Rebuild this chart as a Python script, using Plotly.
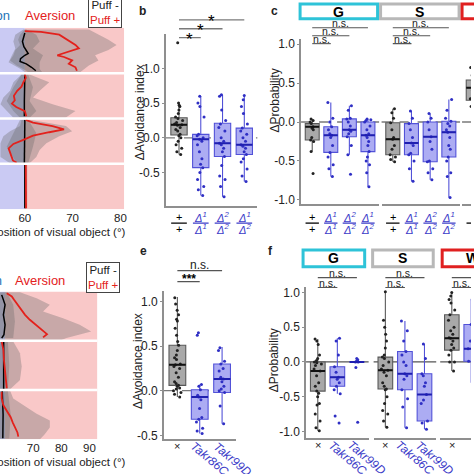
import plotly.graph_objects as go

W = H = 474
FONT = "Liberation Sans, Arial, sans-serif"

# ======================= DATA =======================
# ---- panel a (top): 4 strips; t = position inside strip (0 top .. 1 bottom), x = azimuth (deg)
a1_red_t = [
    [0.076, 0.091, 0.152, 0.265, 0.379, 0.455, 0.530, 0.606, 0.644, 0.720, 0.795, 0.871, 0.947],
    [0.03, 0.104, 0.201, 0.299, 0.388, 0.5, 0.597, 0.672, 0.746, 0.836, 0.948],
    [0.03, 0.091, 0.167, 0.242, 0.303, 0.379, 0.470, 0.561, 0.659, 0.758, 0.848, 0.924, 0.977],
    [0.02, 0.5, 0.98],
]
a1_red_x = [
    [60.0, 63.4, 67.2, 69.0, 70.6, 71.3, 69.0, 66.8, 68.2, 69.9, 69.2, 70.6, 70.9],
    [60.0, 60.2, 59.7, 59.3, 58.4, 57.7, 57.9, 57.3, 58.2, 60.0, 60.3],
    [60.2, 61.7, 65.8, 68.2, 65.1, 61.7, 59.7, 57.6, 56.6, 56.9, 57.3, 57.5, 58.3],
    [60.2, 60.15, 60.25],
]
a1_blk_t = [
    [0.114, 0.189, 0.303, 0.417, 0.492, 0.568, 0.606, 0.682, 0.742, 0.795, 0.871, 0.947],
    [0.03, 0.313, 0.612, 0.948],
    [0.03, 0.47, 0.977],
    [0.02, 0.98],
]
a1_blk_x = [
    [60.0, 59.8, 59.5, 59.8, 60.2, 60.7, 60.0, 59.1, 59.0, 60.3, 61.4, 62.3],
    [60.0, 59.9, 59.9, 59.9],
    [60.0, 59.9, 59.9],
    [60.0, 60.0],
]
a1_rband_t = [
    [0.038, 0.152, 0.265, 0.379, 0.492, 0.606, 0.720, 0.833, 0.947, 1.0],
    [0.03, 0.201, 0.388, 0.537, 0.687, 0.836, 0.985],
    [0.03, 0.167, 0.280, 0.394, 0.545, 0.697, 0.848, 0.985],
    [0.02, 0.98],
]
a1_rband_lo = [
    [60.0, 59.0, 58.6, 59.0, 58.0, 57.6, 56.9, 58.3, 60.3, 61.0],
    [59.3, 57.6, 56.9, 55.5, 54.9, 56.2, 57.6],
    [59.3, 59.0, 56.9, 55.5, 54.9, 54.9, 54.9, 56.9],
    [59.9, 59.9],
]
a1_rband_hi = [
    [73.4, 75.4, 77.5, 79.2, 77.5, 74.7, 75.4, 73.4, 72.0, 71.3],
    [61.0, 65.1, 63.1, 61.7, 65.8, 70.6, 68.5],
    [61.0, 68.6, 69.9, 67.2, 64.5, 63.1, 62.4, 61.0],
    [60.5, 60.5],
]
a1_bband_t = [
    [0.038, 0.152, 0.303, 0.455, 0.606, 0.758, 0.909, 1.0],
    [0.03, 0.313, 0.612, 0.836, 0.985],
    [0.03, 0.318, 0.621, 0.985],
    [0.02, 0.98],
]
a1_bband_lo = [
    [59.7, 58.0, 57.6, 58.0, 57.3, 56.6, 59.1, 60.3],
    [59.3, 57.6, 56.2, 57.6, 59.0],
    [59.0, 57.6, 56.2, 58.3],
    [59.9, 59.9],
]
a1_bband_hi = [
    [60.3, 62.4, 63.1, 61.7, 63.8, 63.1, 63.1, 63.8],
    [60.7, 61.7, 61.0, 62.4, 61.0],
    [60.7, 62.4, 61.7, 60.7],
    [60.2, 60.2],
]

# ---- panel a (bottom): 3 strips
a2_red_t = [
    [0.034, 0.101, 0.169, 0.270, 0.372, 0.473, 0.574, 0.676, 0.777, 0.865, 0.932],
    [0.014, 0.184, 0.388, 0.592, 0.796, 0.966],
    [0.034, 0.172, 0.310, 0.448, 0.552, 0.655, 0.759, 0.862, 0.945],
]
a2_red_x = [
    [60.6, 62.4, 63.2, 64.4, 65.9, 67.1, 68.8, 70.9, 72.9, 74.9, 73.5],
    [58.8, 59.4, 59.6, 60.0, 60.4, 60.6],
    [58.8, 58.8, 59.4, 60.8, 62.0, 62.7, 63.5, 64.4, 64.7],
]
a2_blk_t = [
    [0.068, 0.270, 0.473, 0.676, 0.878, 0.946],
    [0.02, 0.5, 0.98],
    [0.02, 0.5, 0.98],
]
a2_blk_x = [
    [58.8, 60.0, 59.4, 60.0, 59.6, 58.8],
    [59.5, 59.6, 59.5],
    [59.0, 59.3, 59.2],
]
a2_rband_t = [
    [0.014, 0.135, 0.270, 0.405, 0.541, 0.676, 0.811, 0.946, 1.0],
    [0.014, 0.252, 0.524, 0.796, 0.986],
    [0.014, 0.172, 0.345, 0.483, 0.621, 0.759, 0.897, 1.0],
]
a2_rband_lo = [
    [58.2] * 9,
    [58.2] * 5,
    [58.2] * 8,
]
a2_rband_hi = [
    [65.3, 71.2, 75.9, 73.5, 80.6, 86.5, 90.6, 81.8, 79.4],
    [62.9, 65.3, 65.9, 65.3, 61.8],
    [61.8, 62.9, 67.6, 71.2, 75.9, 75.9, 74.1, 72.4],
]
a2_bband_t = [
    [0.014, 0.270, 0.608, 0.946],
    [0.014, 0.5, 0.986],
    [0.014, 0.5, 0.986],
]
a2_bband_lo = [
    [58.2] * 4,
    [58.2] * 3,
    [58.2] * 3,
]
a2_bband_hi = [
    [60.6, 62.9, 63.5, 62.9],
    [61.0, 61.5, 61.0],
    [61.0, 62.0, 61.5],
]

# ---- panel b: Delta avoidance index, genotypes +/+, D1/D1, D2/D2, D1/D2
b_num = ["+", "Δ<sup>1</sup>", "Δ<sup>2</sup>", "Δ<sup>1</sup>"]
b_den = ["+", "Δ<sup>1</sup>", "Δ<sup>2</sup>", "Δ<sup>2</sup>"]
b_kind = ["g", "b", "b", "b"]
b_q1 = [0.04, -0.43, -0.27, -0.24]
b_med = [0.19, -0.02, -0.08, -0.10]
b_q3 = [0.29, 0.05, 0.21, 0.14]
b_lo = [-0.24, -0.83, -0.85, -0.63]
b_hi = [0.48, 0.60, 0.62, 0.61]
b_pts = [
    [1.37, 0.5, 0.47, 0.45, 0.4, 0.35, 0.3, 0.28, 0.25, 0.22, 0.2, 0.19, 0.18, 0.15, 0.12, 0.1, 0.05, 0.03, 0.0, -0.05, -0.1, -0.15, -0.2, -0.24],
    [0.6, 0.5, 0.45, 0.3, 0.05, 0.03, 0.0, -0.02, -0.05, -0.1, -0.2, -0.3, -0.38, -0.43, -0.5, -0.6, -0.7, -0.75, -0.83],
    [0.62, 0.6, 0.4, 0.25, 0.2, 0.15, 0.1, 0.0, -0.05, -0.08, -0.1, -0.15, -0.2, -0.27, -0.4, -0.55, -0.6, -0.7, -0.85],
    [0.61, 0.55, 0.45, 0.35, 0.2, 0.14, 0.1, 0.05, 0.0, -0.05, -0.1, -0.12, -0.15, -0.2, -0.24, -0.3, -0.35, -0.45, -0.55, -0.63],
]
b_sig = ["*", "*", "*"]

# ---- panel c: Delta probability per facet (G, S, V)
c_facets = ["G", "S", ""]
c_q1 = [[-0.23, -0.39, -0.19, -0.38], [-0.42, -0.42, -0.51, -0.45], [0.28]]
c_med = [[-0.06, -0.17, -0.10, -0.17], [-0.22, -0.27, -0.19, -0.13], [0.44]]
c_q3 = [[-0.02, -0.06, 0.04, 0.0], [-0.01, -0.02, 0.0, 0.01], [0.54]]
c_lo = [[-0.38, -0.70, -0.42, -0.83], [-0.51, -0.76, -0.74, -0.97], [0.10]]
c_hi = [[0.04, 0.25, 0.21, 0.04], [0.17, 0.14, 0.11, 0.29], [0.70]]
c_pts = [
    [
        [0.04, 0.02, 0.0, -0.02, -0.06, -0.08, -0.1, -0.2, -0.23, -0.25, -0.38, -0.66],
        [0.25, 0.05, 0.0, -0.06, -0.1, -0.15, -0.17, -0.2, -0.3, -0.39, -0.45, -0.55, -0.6, -0.7],
        [0.21, 0.15, 0.05, 0.04, 0.0, -0.05, -0.1, -0.12, -0.15, -0.19, -0.3, -0.42, -0.67],
        [0.04, 0.03, 0.02, 0.0, -0.05, -0.1, -0.15, -0.17, -0.2, -0.25, -0.3, -0.38, -0.45, -0.5, -0.55, -0.65, -0.83],
    ],
    [
        [0.17, 0.12, 0.05, -0.01, -0.1, -0.2, -0.22, -0.3, -0.35, -0.42, -0.45, -0.48, -0.51],
        [0.14, 0.05, -0.02, -0.1, -0.2, -0.27, -0.3, -0.4, -0.42, -0.5, -0.6, -0.76],
        [0.11, 0.05, 0.0, -0.1, -0.19, -0.25, -0.35, -0.5, -0.51, -0.6, -0.65, -0.74],
        [0.29, 0.15, 0.05, 0.01, -0.02, -0.05, -0.1, -0.13, -0.2, -0.3, -0.35, -0.45, -0.5, -0.65, -0.7, -0.97],
    ],
    [
        [0.70, 0.6, 0.54, 0.5, 0.44, 0.4, 0.3, 0.28, 0.2, 0.1],
    ],
]

# ---- panel e: Delta avoidance index for x, Takr86C, Takr99D
e_labels = ["×", "Takr86C", "Takr99D"]
e_kind = ["g", "b", "b"]
e_q1 = [0.06, -0.32, -0.02]
e_med = [0.29, -0.07, 0.13]
e_q3 = [0.51, 0.01, 0.30]
e_lo = [-0.07, -0.48, -0.37]
e_hi = [1.05, 0.07, 0.49]
e_pts = [
    [1.04, 0.97, 0.9, 0.85, 0.8, 0.78, 0.7, 0.62, 0.55, 0.51, 0.45, 0.4, 0.37, 0.35, 0.3, 0.29, 0.27, 0.25, 0.2, 0.15, 0.1, 0.08, 0.06, 0.05, 0.03, 0.02, 0.0, -0.02, -0.04, -0.07],
    [0.65, 0.62, 0.07, 0.05, 0.01, -0.05, -0.07, -0.1, -0.2, -0.3, -0.32, -0.35, -0.42, -0.45, -0.48],
    [0.48, 0.45, 0.33, 0.3, 0.25, 0.22, 0.15, 0.13, 0.1, 0.05, 0.02, 0.0, -0.02, -0.17, -0.37],
]

# ---- panel f: Delta probability per facet (G, S, W)
f_facets = ["G", "S", "W"]
f_q1 = [[-0.42, -0.35, 0.0], [-0.39, -0.40, -0.85], [0.17, 0.01]]
f_med = [[-0.13, -0.22, 0.0], [-0.12, -0.17, -0.47], [0.34, 0.19]]
f_q3 = [[0.0, -0.07, 0.0], [0.07, 0.15, -0.17], [0.68, 0.54]]
f_lo = [[-0.99, -0.46, 0.0], [-0.94, -0.95, -0.97], [-0.13, -0.3]]
f_hi = [[0.33, 0.34, 0.0], [1.01, 0.59, 0.26], [1.0, 0.9]]
f_pts = [
    [
        [0.33, 0.3, 0.25, 0.1, 0.05, 0.02, 0.0, -0.01, -0.03, -0.05, -0.1, -0.13, -0.2, -0.3, -0.35, -0.42, -0.45, -0.5, -0.6, -0.62, -0.75, -0.85, -0.95, -0.99],
        [0.34, 0.3, 0.1, -0.07, -0.15, -0.22, -0.25, -0.3, -0.35, -0.4, -0.46, -0.78, -0.88],
        [0.05, 0.03, 0.01, 0.0, 0.0, -0.08, -0.87],
    ],
    [
        [1.01, 0.6, 0.5, 0.4, 0.3, 0.2, 0.1, 0.07, 0.05, 0.0, -0.05, -0.1, -0.12, -0.15, -0.2, -0.3, -0.35, -0.39, -0.4, -0.5, -0.6, -0.7, -0.75, -0.85, -0.94],
        [0.59, 0.45, 0.3, 0.15, 0.1, 0.0, -0.05, -0.17, -0.2, -0.25, -0.4, -0.53, -0.65, -0.95],
        [0.26, 0.05, -0.17, -0.2, -0.3, -0.35, -0.47, -0.55, -0.6, -0.85, -0.88, -0.97],
    ],
    [
        [1.0, 0.95, 0.9, 0.85, 0.75, 0.68, 0.6, 0.5, 0.45, 0.4, 0.35, 0.34, 0.3, 0.25, 0.2, 0.17, 0.1, 0.0, 0.0, -0.13],
        [0.9, 0.54, 0.4, 0.3, 0.19, 0.1, 0.01, -0.3],
    ],
]

# ======================= STYLE =======================
RED = "#e3211c"
BLUEBG = "#cacaf3"
PINKBG = "#f9c8c8"
BAND = "rgba(105,105,105,0.34)"
AXC = "#8f8f8f"
TXT = "#222222"
BLUE_T = "#3b3bc8"
CYAN = "#2ec3d8"
GRAYB = "#b8b8b8"

layout = dict(width=W, height=H, margin=dict(l=0, r=0, t=0, b=0, pad=0),
              paper_bgcolor="white", plot_bgcolor="rgba(0,0,0,0)",
              showlegend=False, boxmode="overlay",
              font=dict(family=FONT, size=12, color=TXT))
shapes, annos, traces = [], [], []
counter = [0]


def new_axes(xpx, ypx, xrange, yrange, xkw=None, ykw=None):
    counter[0] += 1
    n = counter[0]
    s = "" if n == 1 else str(n)
    xa = dict(domain=[xpx[0] / W, min(xpx[1] / W, 1.0)], range=xrange, anchor="y" + s,
              showgrid=False, zeroline=False, showline=False, ticks="",
              showticklabels=False, fixedrange=True)
    ya = dict(domain=[1 - ypx[1] / H, 1 - ypx[0] / H], range=yrange, anchor="x" + s,
              showgrid=False, zeroline=False, showline=False, ticks="",
              showticklabels=False, fixedrange=True)
    xa.update(xkw or {})
    ya.update(ykw or {})
    layout["xaxis" + s] = xa
    layout["yaxis" + s] = ya
    return "x" + s, "y" + s


def ann(x, y, text, size=12, color=TXT, xref="paper", yref="paper",
        xanchor="center", yanchor="middle", angle=0, **kw):
    if xref == "paper":
        x = x / W
    if yref == "paper":
        y = 1 - y / H
    annos.append(dict(x=x, y=y, xref=xref, yref=yref, text=text, showarrow=False,
                      font=dict(size=size, color=color, family=FONT),
                      xanchor=xanchor, yanchor=yanchor, textangle=angle, **kw))


def hline(xref, x0, x1, ypx, color="#666666", width=1.0):
    shapes.append(dict(type="line", xref=xref, yref="paper", x0=x0, x1=x1,
                       y0=1 - ypx / H, y1=1 - ypx / H, line=dict(color=color, width=width)))


def rect_px(x0, y0, x1, y1, color, width=3):
    shapes.append(dict(type="rect", xref="paper", yref="paper", x0=x0 / W, x1=x1 / W,
                       y0=1 - y1 / H, y1=1 - y0 / H, fillcolor="white",
                       line=dict(color=color, width=width)))


def strip_panel(xpx, ypx, xrange, red_t, red_x, blk_t, blk_x, rb_t, rb_lo, rb_hi,
                bb_t, bb_lo, bb_hi, tickvals):
    n = len(red_t)
    xr, yr = new_axes(xpx, ypx, xrange, [n, 0],
                      xkw=dict(showticklabels=True, tickvals=tickvals,
                               ticktext=[str(v) for v in tickvals],
                               tickfont=dict(size=11.5, color=TXT)))
    shapes.append(dict(type="rect", xref=xr, yref=yr, x0=xrange[0], x1=60, y0=0, y1=n,
                       fillcolor=BLUEBG, line=dict(width=0), layer="below"))
    shapes.append(dict(type="rect", xref=xr, yref=yr, x0=60, x1=xrange[1], y0=0, y1=n,
                       fillcolor=PINKBG, line=dict(width=0), layer="below"))
    for k in range(n):
        for tt, lo, hi in [(rb_t[k], rb_lo[k], rb_hi[k]), (bb_t[k], bb_lo[k], bb_hi[k])]:
            ys = [k + t for t in tt]
            traces.append(go.Scatter(x=list(lo) + list(hi)[::-1], y=ys + ys[::-1],
                                     fill="toself", fillcolor=BAND, mode="lines",
                                     line=dict(width=0), xaxis=xr, yaxis=yr, hoverinfo="skip"))
        traces.append(go.Scatter(x=blk_x[k], y=[k + t for t in blk_t[k]], mode="lines",
                                 line=dict(color="black", width=1.5), xaxis=xr, yaxis=yr,
                                 hoverinfo="skip"))
        traces.append(go.Scatter(x=red_x[k], y=[k + t for t in red_t[k]], mode="lines",
                                 line=dict(color=RED, width=1.8), xaxis=xr, yaxis=yr,
                                 hoverinfo="skip"))
    for k in range(1, n):
        shapes.append(dict(type="line", xref=xr + " domain", yref=yr, x0=0, x1=1, y0=k, y1=k,
                           line=dict(color="white", width=2.5)))
    return xr, yr


def boxes(xr, yr, kinds, q1, med, q3, lo, hi, pts, jitter=0.55):
    for i in range(len(q1)):
        gray = kinds[i] == "g"
        fill = "#a9a9a9" if gray else "#acacf3"
        lc = "#595959" if gray else "#5252d8"
        mc = "#111111" if gray else "#1f1fb0"
        pc = "#222222" if gray else "#2f2fc4"
        traces.append(go.Box(x=[i], q1=[q1[i]], median=[med[i]], q3=[q3[i]],
                             lowerfence=[lo[i]], upperfence=[hi[i]], width=0.75,
                             fillcolor=fill, line=dict(color=lc, width=1.1), whiskerwidth=0,
                             boxpoints=False, xaxis=xr, yaxis=yr, hoverinfo="skip"))
        traces.append(go.Scatter(x=[i - 0.375, i + 0.375], y=[med[i], med[i]], mode="lines",
                                 line=dict(color=mc, width=2), xaxis=xr, yaxis=yr,
                                 hoverinfo="skip"))
        traces.append(go.Box(x=[i] * len(pts[i]), y=pts[i], boxpoints="all", jitter=jitter,
                             pointpos=0, width=0.75, fillcolor="rgba(0,0,0,0)",
                             line=dict(color="rgba(0,0,0,0)", width=0),
                             marker=dict(color=pc, size=3), xaxis=xr, yaxis=yr,
                             hoverinfo="skip"))


def zero_line(xr, yr, dash="dash", color="#7a7a7a"):
    shapes.append(dict(type="line", xref=xr + " domain", yref=yr, x0=0, x1=1, y0=0, y1=0,
                       line=dict(color=color, width=1.3, dash=dash), layer="below"))


def frac_labels(xr, nums, dens, kinds, ynum=218, ybar=224, yden=230):
    for i in range(len(nums)):
        col = "black" if kinds[i] == "g" else BLUE_T
        n_t = nums[i] if kinds[i] == "g" else "<i>" + nums[i] + "</i>"
        d_t = dens[i] if kinds[i] == "g" else "<i>" + dens[i] + "</i>"
        ann(i, ynum, n_t, size=11, color=col, xref=xr)
        ann(i, yden, d_t, size=11, color=col, xref=xr)
        hline(xr, i - 0.36, i + 0.36, ybar, color=col, width=1.3)


def rot_labels(xr, labels, kinds, yaxis_px):
    for i, lab in enumerate(labels):
        if kinds[i] == "g":
            ann(i, yaxis_px + 7, lab, size=11, color=TXT, xref=xr)
        else:
            ann(i, yaxis_px + 20, "<i>%s</i>" % lab, size=12, color=BLUE_T, xref=xr,
                angle=40, xshift=10)


AXLINE = dict(showline=True, linecolor=AXC, linewidth=1.6)
YT = dict(tickfont=dict(size=12, color=TXT), ticks="outside", ticklen=2, tickcolor=AXC)

# ======================= PANEL a (top) =======================
strip_panel((0, 125), (27, 210), [54.8, 80.8], a1_red_t, a1_red_x, a1_blk_t, a1_blk_x,
            a1_rband_t, a1_rband_lo, a1_rband_hi, a1_bband_t, a1_bband_lo, a1_bband_hi,
            [60, 70, 80])
ann(12, 15, "Attraction", size=13, color="#1d74b8", xanchor="right")
ann(23, 15, "Aversion", size=13, color=RED, xanchor="left")
ann(106, 11.5, "Puff -<br><span style='color:%s'>Puff +</span>" % RED, size=11.5,
    bordercolor="#444444", borderwidth=1, borderpad=1, bgcolor="white")
ann(128, 233, "Horizontal position of visual object (°)", size=11.5, xanchor="right")

# ======================= PANEL a (bottom) =======================
strip_panel((0, 98), (293, 442), [58.2, 92.8], a2_red_t, a2_red_x, a2_blk_t, a2_blk_x,
            a2_rband_t, a2_rband_lo, a2_rband_hi, a2_bband_t, a2_bband_lo, a2_bband_hi,
            [60, 70, 80, 90])
ann(4, 282, "Attraction", size=13, color="#1d74b8", xanchor="right")
ann(13, 282, "Aversion", size=13, color=RED, xanchor="left")
ann(103.5, 279, "Puff -<br><span style='color:%s'>Puff +</span>" % RED, size=11.5,
    bordercolor="#444444", borderwidth=1, borderpad=1, bgcolor="white")
ann(128, 465, "Horizontal position of visual object (°)", size=11.5, xanchor="right")

# ======================= PANEL b =======================
xb, yb = new_axes((167, 259), (33, 207), [-0.6, 3.6], [-0.986, 1.5],
                  xkw=AXLINE, ykw=dict(showticklabels=True, tickvals=[-0.5, 0, 0.5, 1.0],
                                       ticktext=["-0.5", "0.0", "0.5", "1.0"], **AXLINE, **YT))
zero_line(xb, yb)
boxes(xb, yb, b_kind, b_q1, b_med, b_q3, b_lo, b_hi, b_pts)
frac_labels(xb, b_num, b_den, b_kind)
for j, (x1, ypx) in enumerate([(3, 19), (2, 28), (1, 37)]):
    hline(xb, 0, x1, ypx, color="#7a7a7a", width=1.3)
    ann(x1 / 2, ypx + 1.5, b_sig[j], size=17, color="black", xref=xb)
ann(143, 10, "<b>b</b>", size=12)
ann(141, 112, "ΔAvoidance index", size=12, angle=-90)

# ======================= PANEL c =======================
c_px = [(303, 381.5), (384, 463), (465, 474)]
c_rng = [[-0.6, 3.6], [-0.6, 3.6], [-0.6, -0.119]]
c_hdr = [(302, 380, CYAN), (383, 462, GRAYB), (465, 560, "#e02020")]
for f in range(3):
    ykw = dict(showticklabels=True, tickvals=[-1, -0.5, 0, 0.5, 1.0],
               ticktext=["-1.0", "-0.5", "0.0", "0.5", "1.0"], **AXLINE, **YT) if f == 0 else {}
    xc, yc = new_axes(c_px[f], (38, 205), c_rng[f], [-1.056, 1.07], xkw=AXLINE, ykw=ykw)
    zero_line(xc, yc)
    kinds = ["g", "b", "b", "b"][:len(c_q1[f])]
    boxes(xc, yc, kinds, c_q1[f], c_med[f], c_q3[f], c_lo[f], c_hi[f], c_pts[f], jitter=0.5)
    frac_labels(xc, b_num[:len(c_q1[f])], b_den[:len(c_q1[f])], kinds)
    rect_px(c_hdr[f][0], 3, c_hdr[f][1], 18, c_hdr[f][2])
    if c_facets[f]:
        ann((c_hdr[f][0] + c_hdr[f][1]) / 2, 11, "<b>%s</b>" % c_facets[f], size=14, color="black")
        for x1, ly in [(3, 27), (2, 35), (1, 43)]:
            hline(xc, 0, x1, ly, color="#555555", width=1.1)
            ann(x1 / 2, ly - 4.5, "n.s.", size=10.5, xref=xc)
ann(276, 10, "<b>c</b>", size=12)
ann(277, 100, "ΔProbability", size=12, angle=-90)

# ======================= PANEL e =======================
xe, ye = new_axes((165, 237), (292, 442), [-0.6, 2.6], [-0.544, 1.122],
                  xkw=AXLINE,
                  ykw=dict(showticklabels=True, tickvals=[-0.5, 0, 0.5, 1.0],
                           ticktext=["-0.5", "0.0", "0.5", "1.0"], **AXLINE, **YT))
zero_line(xe, ye)
boxes(xe, ye, e_kind, e_q1, e_med, e_q3, e_lo, e_hi, e_pts)
rot_labels(xe, e_labels, e_kind, 442)
hline(xe, 0, 2, 272, color="#555555", width=1.2)
ann(1, 266, "n.s.", size=12, xref=xe)
hline(xe, 0, 1, 283, color="#555555", width=1.2)
ann(0.5, 280, "<b>***</b>", size=12, color="black", xref=xe)
ann(144, 252, "<b>e</b>", size=12)
ann(139, 363, "ΔAvoidance index", size=12, angle=-90)

# ======================= PANEL f =======================
f_px = [(308, 371), (376, 439), (443, 474)]
f_rng = [[-0.6, 2.6], [-0.6, 2.6], [-0.6, 0.99]]
f_hdr = [(305, 367, CYAN), (375, 436, GRAYB), (445, 507, "#e02020")]
for f in range(3):
    ykw = dict(showticklabels=True, tickvals=[-1, -0.5, 0, 0.5, 1.0],
               ticktext=["-1.0", "-0.5", "0.0", "0.5", "1.0"], **AXLINE, **YT) if f == 0 else {}
    n = len(f_q1[f])
    xf, yf = new_axes(f_px[f], (288, 441), f_rng[f], [-1.1, 1.086], xkw=AXLINE, ykw=ykw)
    zero_line(xf, yf, dash="solid", color="#555555")
    kinds = ["g", "b", "b"][:n]
    boxes(xf, yf, kinds, f_q1[f], f_med[f], f_q3[f], f_lo[f], f_hi[f], f_pts[f])
    rot_labels(xf, e_labels[:n], kinds, 441)
    rect_px(f_hdr[f][0], 251, f_hdr[f][1], 268, f_hdr[f][2])
    ann((f_hdr[f][0] + f_hdr[f][1]) / 2, 259.5, "<b>%s</b>" % f_facets[f], size=14, color="black")
    for x1, ly in [(2, 279), (1, 289)]:
        hline(xf, 0, x1, ly, color="#555555", width=1.1)
        ann(x1 / 2, ly - 5, "n.s.", size=10.5, xref=xf)
ann(272, 252, "<b>f</b>", size=12)
ann(276, 362, "ΔProbability", size=12, angle=-90)

layout["shapes"] = shapes
layout["annotations"] = annos
fig = go.Figure(data=traces, layout=layout)
fig.write_html("out.html")
